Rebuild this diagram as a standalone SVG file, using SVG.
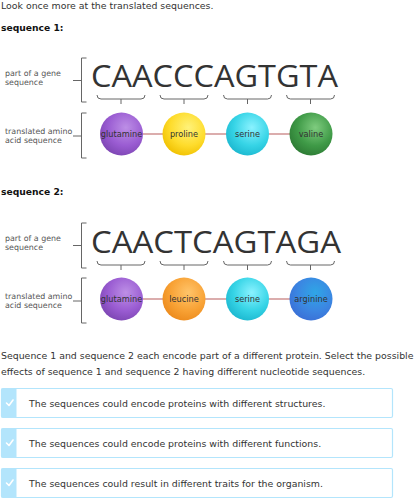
<svg xmlns="http://www.w3.org/2000/svg" width="416" height="500" viewBox="0 0 416 500">
<style>
.t{font-family:"DejaVu Sans",Verdana,sans-serif;font-size:9.4px;fill:#333}
.b{font-family:"DejaVu Sans",Verdana,sans-serif;font-size:9.2px;font-weight:bold;fill:#111}
.lab{font-family:"DejaVu Sans",Verdana,sans-serif;font-size:7.9px;fill:#555}
.big{font-family:"Open Sans","Liberation Sans",sans-serif;font-size:31px;fill:#333}
.aa{font-family:"DejaVu Sans",Verdana,sans-serif;font-size:8.2px;fill:#333;text-anchor:middle}
.br{fill:none;stroke:#666;stroke-width:1}
.con{stroke:#b85c5c;stroke-width:1.2}
.box{fill:#fff;stroke:#b3e5fc;stroke-width:1.2}
.strip{fill:#b3e5fc}
.chk{fill:none;stroke:#fff;stroke-width:1.6;stroke-linecap:round;stroke-linejoin:round}
</style>
<defs>
<radialGradient id="gPur" cx="0.6" cy="0.35" r="0.7"><stop offset="0" stop-color="#bd8fe6"/><stop offset="0.6" stop-color="#9a5cd2"/><stop offset="1" stop-color="#7c45b2"/></radialGradient>
<radialGradient id="gYel" cx="0.6" cy="0.35" r="0.7"><stop offset="0" stop-color="#fff27a"/><stop offset="0.6" stop-color="#fedc2c"/><stop offset="1" stop-color="#f0c000"/></radialGradient>
<radialGradient id="gCya" cx="0.6" cy="0.35" r="0.7"><stop offset="0" stop-color="#8af2ff"/><stop offset="0.6" stop-color="#36d4e6"/><stop offset="1" stop-color="#1bb7cf"/></radialGradient>
<radialGradient id="gGrn" cx="0.6" cy="0.35" r="0.7"><stop offset="0" stop-color="#7fcc7f"/><stop offset="0.6" stop-color="#3f9a47"/><stop offset="1" stop-color="#2d7a34"/></radialGradient>
<radialGradient id="gOra" cx="0.6" cy="0.35" r="0.7"><stop offset="0" stop-color="#ffc46a"/><stop offset="0.6" stop-color="#f8a235"/><stop offset="1" stop-color="#ec8a1c"/></radialGradient>
<radialGradient id="gBlu" cx="0.6" cy="0.35" r="0.7"><stop offset="0" stop-color="#2fa6e6"/><stop offset="0.6" stop-color="#3b86e2"/><stop offset="1" stop-color="#3a6fd6"/></radialGradient>
<path id="brace" d="M-24,-4 Q-24,0 -20,0 L20,0 Q24,0 24,-4 M0,0 L0,5" class="br"/>
</defs>

<text class="t" x="1" y="9">Look once more at the translated sequences.</text>

<!-- sequence 1 -->
<g id="seq1">
<text class="b" x="1" y="31">sequence 1:</text>
<g id="seq1-gene-label">
<text class="lab" x="5" y="76">part of a gene</text>
<text class="lab" x="5" y="85">sequence</text>
<path class="br" d="M86.5,58 H81.5 V102 H86.5 M73,80.5 H81.5"/>
</g>
<g id="seq1-gene">
<text class="big" x="91" y="87" textLength="247" lengthAdjust="spacingAndGlyphs">CAACCCAGTGTA</text>
<use href="#brace" x="121" y="99"/>
<use href="#brace" x="184" y="99"/>
<use href="#brace" x="247.5" y="99"/>
<use href="#brace" x="310.5" y="99"/>
</g>
<g id="seq1-aa-label">
<text class="lab" x="5" y="134">translated amino</text>
<text class="lab" x="5" y="143">acid sequence</text>
<path class="br" d="M86.5,113 H81.5 V158 H86.5 M73,136 H81.5"/>
</g>
</g>
<g id="connectors1">
<line class="con" x1="121" y1="134" x2="311" y2="134"/>
</g>
<g id="s1-glutamine"><circle cx="121.5" cy="134" r="21.5" fill="url(#gPur)"/><text class="aa" x="121.5" y="137">glutamine</text></g>
<g id="s1-proline"><circle cx="184" cy="134" r="21.5" fill="url(#gYel)"/><text class="aa" x="184" y="137">proline</text></g>
<g id="s1-serine"><circle cx="247.5" cy="134" r="21.5" fill="url(#gCya)"/><text class="aa" x="247.5" y="137">serine</text></g>
<g id="s1-valine"><circle cx="311" cy="134" r="21.5" fill="url(#gGrn)"/><text class="aa" x="311" y="137">valine</text></g>

<!-- sequence 2 -->
<g id="seq2">
<text class="b" x="1" y="195">sequence 2:</text>
<g id="seq2-gene-label">
<text class="lab" x="5" y="241">part of a gene</text>
<text class="lab" x="5" y="250">sequence</text>
<path class="br" d="M86.5,223 H81.5 V268 H86.5 M73,245.5 H81.5"/>
</g>
<g id="seq2-gene">
<text class="big" x="91" y="253" textLength="250" lengthAdjust="spacingAndGlyphs">CAACTCAGTAGA</text>
<use href="#brace" x="121" y="265"/>
<use href="#brace" x="184" y="265"/>
<use href="#brace" x="247.5" y="265"/>
<use href="#brace" x="310.5" y="265"/>
</g>
<g id="seq2-aa-label">
<text class="lab" x="5" y="299">translated amino</text>
<text class="lab" x="5" y="308">acid sequence</text>
<path class="br" d="M86.5,278 H81.5 V323 H86.5 M73,301 H81.5"/>
</g>
</g>
<g id="connectors2">
<line class="con" x1="121" y1="299" x2="311" y2="299"/>
</g>
<g id="s2-glutamine"><circle cx="121.5" cy="299" r="21.5" fill="url(#gPur)"/><text class="aa" x="121.5" y="302">glutamine</text></g>
<g id="s2-leucine"><circle cx="184" cy="299" r="21.5" fill="url(#gOra)"/><text class="aa" x="184" y="302">leucine</text></g>
<g id="s2-serine"><circle cx="247.5" cy="299" r="21.5" fill="url(#gCya)"/><text class="aa" x="247.5" y="302">serine</text></g>
<g id="s2-arginine"><circle cx="311" cy="299" r="21.5" fill="url(#gBlu)"/><text class="aa" x="311" y="302">arginine</text></g>

<text class="t" x="1" y="359">Sequence 1 and sequence 2 each encode part of a different protein. Select the possible</text>
<text class="t" x="1" y="375">effects of sequence 1 and sequence 2 having different nucleotide sequences.</text>

<g id="option1">
<rect class="box" x="1.5" y="388.5" width="391" height="29" rx="1.5"/>
<rect class="strip" x="1.5" y="388.5" width="15" height="29"/>
<path class="chk" d="M6.5,403 L9,405.5 L13,400"/>
<text class="t" x="29" y="406.5">The sequences could encode proteins with different structures.</text>
</g>
<g id="option2">
<rect class="box" x="1.5" y="428.5" width="391" height="29" rx="1.5"/>
<rect class="strip" x="1.5" y="428.5" width="15" height="29"/>
<path class="chk" d="M6.5,443 L9,445.5 L13,440"/>
<text class="t" x="29" y="446.5">The sequences could encode proteins with different functions.</text>
</g>
<g id="option3">
<rect class="box" x="1.5" y="468.5" width="391" height="29" rx="1.5"/>
<rect class="strip" x="1.5" y="468.5" width="15" height="29"/>
<path class="chk" d="M6.5,483 L9,485.5 L13,480"/>
<text class="t" x="29" y="486.5">The sequences could result in different traits for the organism.</text>
</g>
</svg>
